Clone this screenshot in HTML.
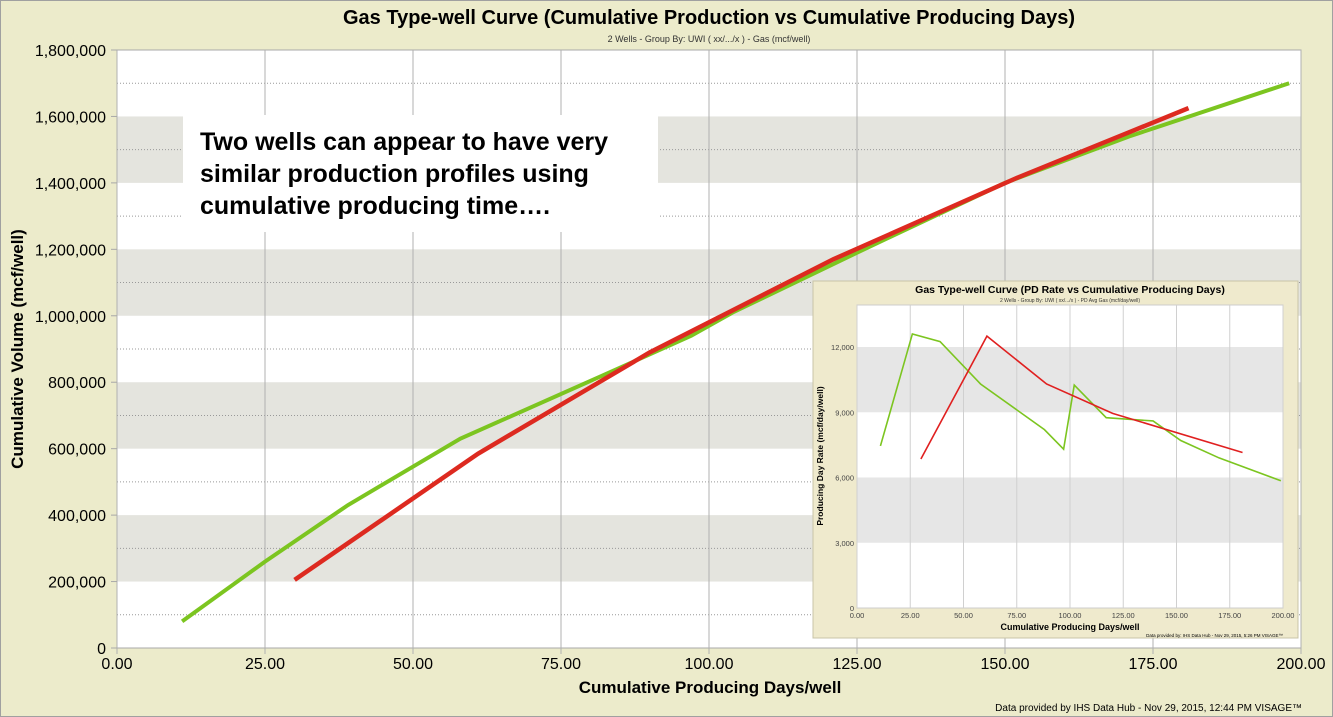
<!DOCTYPE html>
<html><head><meta charset="utf-8"><style>
body{margin:0;background:#ecebcb;}
svg{display:block;font-family:"Liberation Sans",Arial,sans-serif;}
</style></head><body>
<svg id="c" width="1333" height="717" xmlns="http://www.w3.org/2000/svg">
<rect x="0.5" y="0.5" width="1332" height="716" fill="#ecebcb" stroke="#a0a0a0"/>
<text x="709" y="24" text-anchor="middle" font-size="20" font-weight="bold">Gas Type-well Curve (Cumulative Production vs Cumulative Producing Days)</text>
<text x="709" y="42" text-anchor="middle" font-size="9" fill="#333">2 Wells - Group By: UWI ( xx/.../x ) - Gas (mcf/well)</text>
<g id="main"></g>
<text x="710" y="693" text-anchor="middle" font-size="17" font-weight="bold">Cumulative Producing Days/well</text>
<text transform="translate(23,349) rotate(-90)" text-anchor="middle" font-size="17" font-weight="bold">Cumulative Volume (mcf/well)</text>
<text x="1302" y="711" text-anchor="end" font-size="10">Data provided by IHS Data Hub - Nov 29, 2015, 12:44 PM VISAGE™</text>
<g>
<rect x="183" y="115" width="475" height="117" fill="#fff"/>
<text font-size="25" font-weight="bold" fill="#000"><tspan x="200" y="150">Two wells can appear to have very</tspan><tspan x="200" y="182">similar production profiles using</tspan><tspan x="200" y="214">cumulative producing time….</tspan></text>
</g>
<g id="inset">
<rect x="813" y="281" width="485" height="357" fill="#efeacd" stroke="#c8c4a8"/>
<text x="1070" y="293" text-anchor="middle" font-size="10.5" font-weight="bold">Gas Type-well Curve (PD Rate vs Cumulative Producing Days)</text>
<text x="1070" y="302" text-anchor="middle" font-size="5" fill="#333">2 Wells - Group By: UWI ( xx/.../x ) - PD Avg Gas (mcf/day/well)</text>
<text x="1070" y="630" text-anchor="middle" font-size="9" font-weight="bold">Cumulative Producing Days/well</text>
<text transform="translate(823,456) rotate(-90)" text-anchor="middle" font-size="8.5" font-weight="bold">Producing Day Rate (mcf/day/well)</text>
<text x="1283" y="637" text-anchor="end" font-size="4.5">Data provided by: IHS Data Hub - Nov 29, 2015, 5:26 PM VISAGE™</text>
</g>
</svg>
<script>
const xTicks=[0,25,50,75,100,125,150,175,200];
const yTicks=[0,200000,400000,600000,800000,1000000,1200000,1400000,1600000,1800000];
const greenDays=[11,25,39,58,82,97,104,125,150,171,198];
const greenCum=[80000,260000,430000,630000,820000,940000,1010000,1190000,1400000,1540000,1700000];
const redDays=[30,61,90,121,152,181];
const redCum=[205000,585000,890000,1170000,1415000,1625000];
const insetYTicks=[0,3000,6000,9000,12000];
const insetGreenDays=[11,26,39,58,88,97,102,117,139,152,170,199];
const insetGreenRate=[7450,12600,12250,10300,8200,7300,10250,8750,8600,7700,6900,5850];
const insetRedDays=[30,61,89,120,181];
const insetRedRate=[6850,12500,10300,8950,7150];

const NS="http://www.w3.org/2000/svg";
function mk(p,t,a){const e=document.createElementNS(NS,t);for(const k in a)e.setAttribute(k,a[k]);p.appendChild(e);return e;}
function fmt(v){return v.toLocaleString('en-US');}

// main
const g=document.getElementById('main');
const L=117,R=1301,T=50,B=648;
const X=d=>L+(d/200)*(R-L), Y=v=>B-(v/1800000)*(B-T);
let bg=mk(g,'rect',{x:L,y:T,width:R-L,height:B-T,fill:'#fff',stroke:'#a8a8a8'});


for(let i=0;i<yTicks.length-1;i++){
  if(i%2===1){let b=mk(g,'rect',{x:L,y:Y(yTicks[i+1]),width:R-L,height:Y(yTicks[i])-Y(yTicks[i+1]),fill:'#e4e4de'});
  
  }
  let m=(yTicks[i]+yTicks[i+1])/2;
  let dl=mk(g,'line',{x1:L,x2:R,y1:Y(m),y2:Y(m),stroke:'#999','stroke-dasharray':'1,2'});
  
  
}
xTicks.forEach(t=>{
  let l=mk(g,'line',{x1:X(t),x2:X(t),y1:T,y2:B+6,stroke:'#b0b0b0'});
  
  
  let tx=mk(g,'text',{x:X(t),y:B+21,'text-anchor':'middle','font-size':16});
  tx.textContent=t.toFixed(2);
  
  
});
yTicks.forEach(t=>{
  let l=mk(g,'line',{x1:L-6,x2:L,y1:Y(t),y2:Y(t),stroke:'#a8a8a8'});
  
  
  let tx=mk(g,'text',{x:L-11,y:Y(t)+6,'text-anchor':'end','font-size':16});
  tx.textContent=fmt(t);
  
  
});
let gl=mk(g,'polyline',{points:greenDays.map((d,i)=>X(d)+','+Y(greenCum[i])).join(' '),fill:'none',stroke:'#7cc520','stroke-width':4});


let rl=mk(g,'polyline',{points:redDays.map((d,i)=>X(d)+','+Y(redCum[i])).join(' '),fill:'none',stroke:'#dd2a20','stroke-width':4.5});



// inset
const ig=document.getElementById('inset');
const iL=857,iR=1283,iT=305,iB=608;
const iX=d=>iL+(d/200)*(iR-iL), iY=v=>iB-(v/12000)*(iB-347);
let ibg=mk(ig,'rect',{x:iL,y:iT,width:iR-iL,height:iB-iT,fill:'#fff',stroke:'#ccc'});


[[3000,6000],[9000,12000]].forEach(b=>{
  let r=mk(ig,'rect',{x:iL,y:iY(b[1]),width:iR-iL,height:iY(b[0])-iY(b[1]),fill:'#e6e6e6'});
  
  
});
xTicks.forEach(t=>{
  let l=mk(ig,'line',{x1:iX(t),x2:iX(t),y1:iT,y2:iB,stroke:'#d0d0d0'});
  
  
  let tx=mk(ig,'text',{x:iX(t),y:iB+10,'text-anchor':'middle','font-size':7.5,fill:'#444'});
  tx.textContent=t.toFixed(2);
  
  
});
insetYTicks.forEach(t=>{
  let tx=mk(ig,'text',{x:iL-3,y:iY(t)+3,'text-anchor':'end','font-size':7.5,fill:'#444'});
  tx.textContent=fmt(t);
  
  
});
let igl=mk(ig,'polyline',{points:insetGreenDays.map((d,i)=>iX(d)+','+iY(insetGreenRate[i])).join(' '),fill:'none',stroke:'#7cc520','stroke-width':1.6});


let irl=mk(ig,'polyline',{points:insetRedDays.map((d,i)=>iX(d)+','+iY(insetRedRate[i])).join(' '),fill:'none',stroke:'#e02020','stroke-width':1.6});


</script>
</body></html>
